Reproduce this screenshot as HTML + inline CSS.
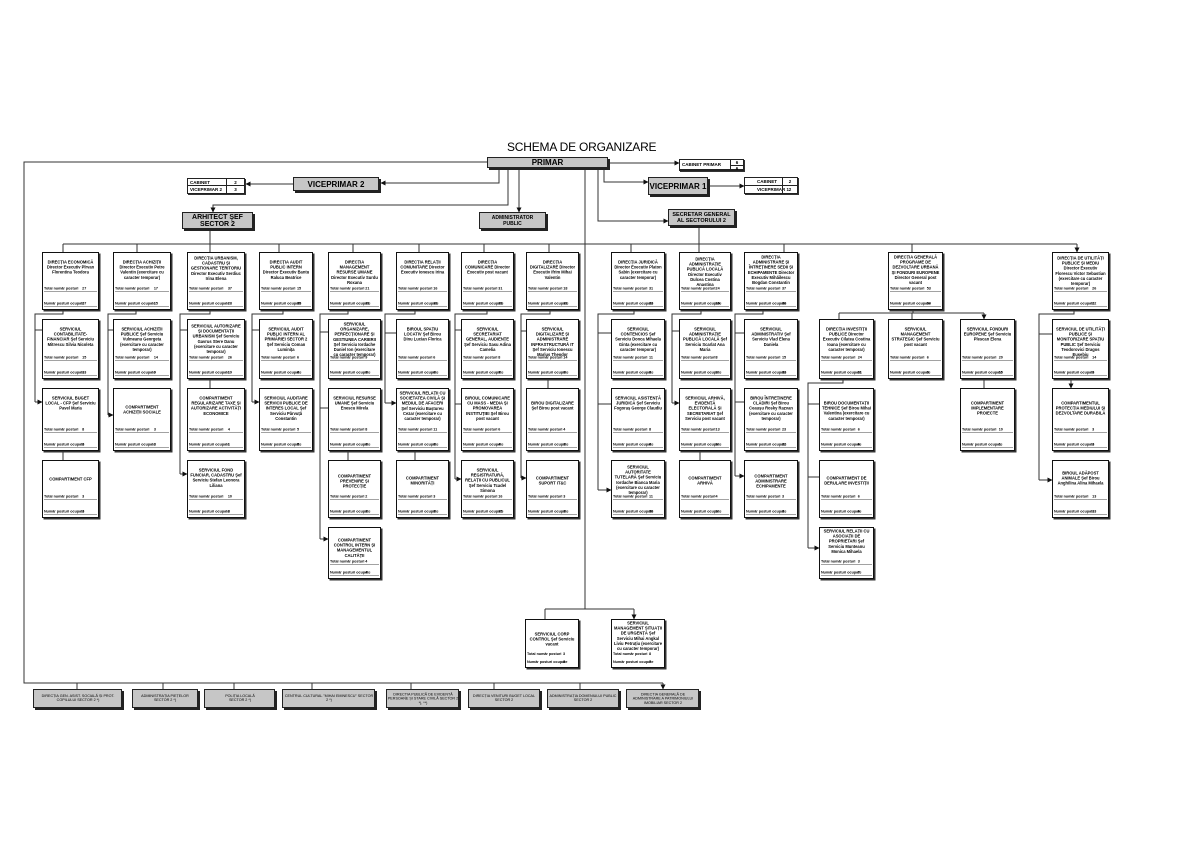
<!DOCTYPE html>
<html><head><meta charset="utf-8">
<style>
html,body{margin:0;padding:0;background:#fff}
body{width:1200px;height:848px;position:relative;overflow:hidden;font-family:"Liberation Sans",Arial,sans-serif;color:#000}
.b{position:absolute;background:#fff;border:1px solid #111;box-shadow:1.5px 1.5px 0 #333;box-sizing:border-box}
.b p{position:absolute;left:0;top:0;width:200%;box-sizing:border-box;transform:scale(.5);transform-origin:0 0;margin:0;padding:14px 4px 0;font-size:8.2px;line-height:10.2px;font-weight:bold;text-align:center}
.b .t,.b .o{position:absolute;left:1px;width:calc(200% - 4px);transform:scale(.5);transform-origin:0 100%;font-size:7.4px;line-height:8px;font-weight:bold;border-bottom:1.2px solid #444;padding-bottom:2px}
.b .t{bottom:17px}.b .o{bottom:2px}
.b s{text-decoration:none;position:absolute;left:72%}
.g{position:absolute;background:#c6c6c6;border:1px solid #222;box-shadow:2px 2px 0 #222;box-sizing:border-box;display:flex;align-items:center;justify-content:center;text-align:center;font-weight:bold}
.c{position:absolute;border:1px solid #222;box-sizing:border-box;background:#fff;box-shadow:1px 1px 0 #333;font-size:4.5px;font-weight:bold}
.c div{height:50%;border-bottom:0.6px solid #222;box-sizing:border-box;display:flex;align-items:center;padding-left:2px;position:relative}
.c div:last-child{border-bottom:none}
.c span{position:absolute;right:0;top:0;bottom:0;border-left:0.7px solid #222;display:flex;align-items:center;justify-content:center}
.bt{font-weight:normal}
.bt span{display:block;flex:none;width:200%;transform:scale(.5);font-size:7.4px;line-height:8.4px}
</style></head><body>
<svg width="1200" height="848" style="position:absolute;left:0;top:0" xmlns="http://www.w3.org/2000/svg">
<defs><marker id="a" markerWidth="5" markerHeight="5" refX="4.5" refY="2.5" orient="auto" markerUnits="userSpaceOnUse"><path d="M0,0L5,2.5L0,5z" fill="#111"/></marker></defs>
<g fill="none" stroke="#333" stroke-width="1">
<path d="M487,162L24,162L24,683L663,683"/>
<path d="M77,683V689M163,683V689M234,683V689M312,683V689M411,683V689M494,683V689M580,683V689M663,683V689" marker-end="url(#a)"/>
<path d="M499,167V183H381" marker-end="url(#a)"/>
<path d="M508,167V205H213V212" marker-end="url(#a)"/>
<path d="M519,167V212" marker-end="url(#a)"/>
<path d="M293,184H246" marker-end="url(#a)"/>
<path d="M608,163H679" marker-end="url(#a)"/>
<path d="M604,167V182H648" marker-end="url(#a)"/>
<path d="M708,186H744" marker-end="url(#a)"/>
<path d="M598,167V221H668" marker-end="url(#a)"/>
<path d="M585,167V609M545,609H634"/>
<path d="M545,609V619M634,609V619" marker-end="url(#a)"/>
<path d="M210,229V244M699,226V244M63,244H1077"/>
<path d="M63,244V252M137,244V252M210,244V252M279,244V252M353,244V252M419,244V252M484,244V252M549,244V252M631,244V252M699,244V252M784,244V252M912,244V252M1077,244V252" marker-end="url(#a)"/>
<path d="M63,310V314H35V402"/><path d="M35,330H42M35,402H42" marker-end="url(#a)"/>
<path d="M136,310V314H108V415"/><path d="M108,330H113M108,415H113" marker-end="url(#a)"/>
<path d="M210,310V314H180V474"/><path d="M180,330H187M180,474H187" marker-end="url(#a)"/>
<path d="M283,310V314H252V402"/><path d="M252,330H259M252,402H259" marker-end="url(#a)"/>
<path d="M348,310V314H320V539"/><path d="M320,332H328M320,408H328M320,539H328" marker-end="url(#a)"/>
<path d="M415,310V314H385V403"/><path d="M385,333H396M385,403H396" marker-end="url(#a)"/>
<path d="M487,310V314H455V479"/><path d="M455,330H461M455,404H461M455,479H461" marker-end="url(#a)"/>
<path d="M550,310V314H521V478"/><path d="M521,331H526M521,478H526" marker-end="url(#a)"/>
<path d="M634,310V314H598V490"/><path d="M598,333H611M598,404H611M598,490H611" marker-end="url(#a)"/>
<path d="M701,310V314H672V403"/><path d="M672,331H679M672,403H679" marker-end="url(#a)"/>
<path d="M763,310V314H735V476"/><path d="M735,333H744M735,402H744M735,476H744" marker-end="url(#a)"/>
<path d="M1074,310V314H1039V480"/><path d="M1039,334H1052M1039,480H1052" marker-end="url(#a)"/>
<path d="M843,379V383H808V548"/><path d="M808,404H819M808,477H819M808,548H819" marker-end="url(#a)"/>
<path d="M913,310V313M839,313H984"/><path d="M839,313V319M912,313V319M984,313V319" marker-end="url(#a)"/>
<path d="M63,451V460M210,379V388M348,451V460M415,451V460M548,379V388M700,451V460M984,379V388M1071,379V388" marker-end="url(#a)"/>
</g></svg>

<div style="position:absolute;left:507px;top:140px;font-size:12px;letter-spacing:-0.2px">SCHEMA DE ORGANIZARE</div>
<div class="g" style="left:487px;top:157px;width:121px;height:11px;font-size:8px">PRIMAR</div>
<div class="g" style="left:293px;top:177px;width:86px;height:14px;font-size:8px">VICEPRIMAR 2</div>
<div class="g" style="left:648px;top:177px;width:60px;height:18px;font-size:8px">VICEPRIMAR 1</div>
<div class="g" style="left:182px;top:212px;width:71px;height:17px;font-size:7px;line-height:7px">ARHITECT ŞEF<br>SECTOR 2</div>
<div class="g" style="left:479px;top:212px;width:67px;height:17px;font-size:5px;line-height:6px">ADMINISTRATOR<br>PUBLIC</div>
<div class="g" style="left:668px;top:209px;width:67px;height:17px;font-size:5.5px;line-height:6px">SECRETAR GENERAL<br>AL SECTORULUI 2</div>
<div class="c" style="left:187px;top:178px;width:58px;height:16px"><div>CABINET<span style="width:17px">2</span></div><div>VICEPRIMAR 2<span style="width:17px">3</span></div></div>
<div class="c" style="left:679px;top:159px;width:65px;height:12px"><div style="height:100%">CABINET PRIMAR</div><span style="width:12px;display:block"><div style="height:6px;justify-content:center;padding:0;border-bottom:0.6px solid #222">6</div><div style="height:5px;justify-content:center;padding:0">6</div></span></div>
<div class="c" style="left:744px;top:177px;width:54px;height:17px"><div style="padding-left:12px">CABINET<span style="width:14px">2</span></div><div style="padding-left:12px">VICEPRIMAR 1<span style="width:14px">2</span></div></div>

<!-- row 1 -->
<div class="b" style="left:42px;top:252px;width:57px;height:58px"><p>DIRECȚIA ECONOMICĂ Director Executiv Pîrvan Florentina Teodora</p><div class="t">Total număr posturi<s>27</s></div><div class="o">Număr posturi ocupate<s>27</s></div></div>
<div class="b" style="left:113px;top:252px;width:58px;height:58px"><p>DIRECȚIA ACHIZIȚII Director Executiv Petre Valentin (exercitare cu caracter temporar)</p><div class="t">Total număr posturi<s>17</s></div><div class="o">Număr posturi ocupate<s>15</s></div></div>
<div class="b" style="left:187px;top:252px;width:58px;height:58px"><p style="padding-top:6px">DIRECȚIA URBANISM, CADASTRU ȘI GESTIONARE TERITORIU Director Executiv Serdiuc Irina Elena</p><div class="t">Total număr posturi<s>37</s></div><div class="o">Număr posturi ocupate<s>28</s></div></div>
<div class="b" style="left:259px;top:252px;width:54px;height:58px"><p>DIRECȚIA AUDIT PUBLIC INTERN Director Executiv Bantu Raluca Beatrice</p><div class="t">Total număr posturi<s>15</s></div><div class="o">Număr posturi ocupate<s>15</s></div></div>
<div class="b" style="left:328px;top:252px;width:53px;height:58px"><p>DIRECȚIA MANAGEMENT RESURSE UMANE Director Executiv Surdu Roxana</p><div class="t">Total număr posturi<s>21</s></div><div class="o">Număr posturi ocupate<s>21</s></div></div>
<div class="b" style="left:396px;top:252px;width:53px;height:58px"><p>DIRECȚIA RELAȚII COMUNITARE Director Executiv Ionescu Irina</p><div class="t">Total număr posturi<s>16</s></div><div class="o">Număr posturi ocupate<s>16</s></div></div>
<div class="b" style="left:461px;top:252px;width:53px;height:58px"><p>DIRECȚIA COMUNICARE Director Executiv post vacant</p><div class="t">Total număr posturi<s>31</s></div><div class="o">Număr posturi ocupate<s>28</s></div></div>
<div class="b" style="left:526px;top:252px;width:53px;height:58px"><p>DIRECȚIA DIGITALIZARE Director Executiv Ifrim Mihai Valentin</p><div class="t">Total număr posturi<s>18</s></div><div class="o">Număr posturi ocupate<s>12</s></div></div>
<div class="b" style="left:611px;top:252px;width:54px;height:58px"><p>DIRECȚIA JURIDICĂ Director Executiv Platon Sabin (exercitare cu caracter temporar)</p><div class="t">Total număr posturi<s>31</s></div><div class="o">Număr posturi ocupate<s>23</s></div></div>
<div class="b" style="left:679px;top:252px;width:52px;height:58px"><p style="padding-top:8px">DIRECȚIA ADMINISTRAȚIE PUBLICĂ LOCALĂ Director Executiv Dulcea Costina Anastina</p><div class="t">Total număr posturi<s>24</s></div><div class="o">Număr posturi ocupate<s>19</s></div></div>
<div class="b" style="left:744px;top:252px;width:54px;height:58px"><p style="padding-top:4px">DIRECȚIA ADMINISTRARE ȘI ÎNTREȚINERE SEDII ȘI ECHIPAMENTE Director Executiv Mihăilescu Bogdan Constantin</p><div class="t">Total număr posturi<s>37</s></div><div class="o">Număr posturi ocupate<s>36</s></div></div>
<div class="b" style="left:888px;top:252px;width:55px;height:58px"><p style="padding-top:4px">DIRECȚIA GENERALĂ PROGRAME DE DEZVOLTARE URBANĂ ȘI FONDURI EUROPENE Director General post vacant</p><div class="t">Total număr posturi<s>53</s></div><div class="o">Număr posturi ocupate<s>34</s></div></div>
<div class="b" style="left:1052px;top:252px;width:57px;height:58px"><p style="padding-top:6px">DIRECȚIA DE UTILITĂȚI PUBLICE ȘI MEDIU Director Executiv Florescu Victor Sebastian (exercitare cu caracter temporar)</p><div class="t">Total număr posturi<s>26</s></div><div class="o">Număr posturi ocupate<s>22</s></div></div>

<!-- row 2 -->
<div class="b" style="left:42px;top:319px;width:57px;height:60px"><p>SERVICIUL CONTABILITATE-FINANCIAR Şef Serviciu Mitrescu Silvia Nicoleta</p><div class="t">Total număr posturi<s>15</s></div><div class="o">Număr posturi ocupate<s>13</s></div></div>
<div class="b" style="left:113px;top:319px;width:58px;height:60px"><p>SERVICIUL ACHIZIȚII PUBLICE Şef Serviciu Vulmeanu Georgeta (exercitare cu caracter temporar)</p><div class="t">Total număr posturi<s>14</s></div><div class="o">Număr posturi ocupate<s>9</s></div></div>
<div class="b" style="left:187px;top:319px;width:58px;height:60px"><p style="padding-top:8px">SERVICIUL AUTORIZARE ȘI DOCUMENTAȚII URBANISM Şef Serviciu Gavrus Stere Danu (exercitare cu caracter temporar)</p><div class="t">Total număr posturi<s>26</s></div><div class="o">Număr posturi ocupate<s>19</s></div></div>
<div class="b" style="left:259px;top:319px;width:54px;height:60px"><p>SERVICIUL AUDIT PUBLIC INTERN AL PRIMĂRIEI SECTOR 2 Şef Serviciu Coman Luminița</p><div class="t">Total număr posturi<s>6</s></div><div class="o">Număr posturi ocupate<s>6</s></div></div>
<div class="b" style="left:328px;top:319px;width:53px;height:60px"><p style="padding-top:4px">SERVICIUL ORGANIZARE, PERFECȚIONARE ȘI GESTIUNEA CARIERII Şef Serviciu Iordache Daniel Ion (exercitare cu caracter temporar)</p><div class="t">Total număr posturi<s>9</s></div><div class="o">Număr posturi ocupate<s>9</s></div></div>
<div class="b" style="left:396px;top:319px;width:53px;height:60px"><p>BIROUL SPAȚIU LOCATIV Şef Birou Dinu Lucian Florica</p><div class="t">Total număr posturi<s>6</s></div><div class="o">Număr posturi ocupate<s>6</s></div></div>
<div class="b" style="left:461px;top:319px;width:53px;height:60px"><p>SERVICIUL SECRETARIAT GENERAL, AUDIENȚE Şef Serviciu Sasu Adina Camelia</p><div class="t">Total număr posturi<s>8</s></div><div class="o">Număr posturi ocupate<s>7</s></div></div>
<div class="b" style="left:526px;top:319px;width:53px;height:60px"><p>SERVICIUL DIGITALIZARE ȘI ADMINISTRARE INFRASTRUCTURĂ IT Şef Serviciu Ionescu Marius Theodor</p><div class="t">Total număr posturi<s>14</s></div><div class="o">Număr posturi ocupate<s>9</s></div></div>
<div class="b" style="left:611px;top:319px;width:54px;height:60px"><p>SERVICIUL CONTENCIOS Şef Serviciu Donca Mihaela Ginta (exercitare cu caracter temporar)</p><div class="t">Total număr posturi<s>11</s></div><div class="o">Număr posturi ocupate<s>9</s></div></div>
<div class="b" style="left:679px;top:319px;width:52px;height:60px"><p>SERVICIUL ADMINISTRAȚIE PUBLICĂ LOCALĂ Şef Serviciu Scarlat Ana Maria</p><div class="t">Total număr posturi<s>8</s></div><div class="o">Număr posturi ocupate<s>7</s></div></div>
<div class="b" style="left:744px;top:319px;width:54px;height:60px"><p>SERVICIUL ADMINISTRATIV Şef Serviciu Vlad Elena Daniela</p><div class="t">Total număr posturi<s>15</s></div><div class="o">Număr posturi ocupate<s>13</s></div></div>
<div class="b" style="left:819px;top:319px;width:55px;height:60px"><p>DIRECȚIA INVESTIȚII PUBLICE Director Executiv Cilatea Costina Ioana (exercitare cu caracter temporar)</p><div class="t">Total număr posturi<s>24</s></div><div class="o">Număr posturi ocupate<s>21</s></div></div>
<div class="b" style="left:888px;top:319px;width:55px;height:60px"><p>SERVICIUL MANAGEMENT STRATEGIC Şef Serviciu post vacant</p><div class="t">Total număr posturi<s>6</s></div><div class="o">Număr posturi ocupate<s>3</s></div></div>
<div class="b" style="left:960px;top:319px;width:55px;height:60px"><p>SERVICIUL FONDURI EUROPENE Şef Serviciu Plescan Elena</p><div class="t">Total număr posturi<s>20</s></div><div class="o">Număr posturi ocupate<s>15</s></div></div>
<div class="b" style="left:1052px;top:319px;width:57px;height:60px"><p>SERVICIUL DE UTILITĂȚI PUBLICE ȘI MONITORIZARE SPAȚIU PUBLIC Şef Serviciu Teodorovici Dragos Eusebiu</p><div class="t">Total număr posturi<s>14</s></div><div class="o">Număr posturi ocupate<s>9</s></div></div>

<!-- row 3 -->
<div class="b" style="left:42px;top:388px;width:57px;height:63px"><p>SERVICIUL BUGET LOCAL - CFP Şef Serviciu Pavel Maria</p><div class="t">Total număr posturi<s>8</s></div><div class="o">Număr posturi ocupate<s>8</s></div></div>
<div class="b" style="left:113px;top:388px;width:58px;height:63px"><p style="padding-top:32px">COMPARTIMENT ACHIZIȚII SOCIALE</p><div class="t">Total număr posturi<s>3</s></div><div class="o">Număr posturi ocupate<s>3</s></div></div>
<div class="b" style="left:187px;top:388px;width:58px;height:63px"><p>COMPARTIMENT REGULARIZARE TAXE ȘI AUTORIZARE ACTIVITĂȚI ECONOMICE</p><div class="t">Total număr posturi<s>4</s></div><div class="o">Număr posturi ocupate<s>1</s></div></div>
<div class="b" style="left:259px;top:388px;width:54px;height:63px"><p>SERVICIUL AUDITARE SERVICII PUBLICE DE INTERES LOCAL Şef Serviciu Pârvuță Constantin</p><div class="t">Total număr posturi<s>5</s></div><div class="o">Număr posturi ocupate<s>5</s></div></div>
<div class="b" style="left:328px;top:388px;width:53px;height:63px"><p>SERVICIUL RESURSE UMANE Şef Serviciu Enescu Mirela</p><div class="t">Total număr posturi<s>8</s></div><div class="o">Număr posturi ocupate<s>8</s></div></div>
<div class="b" style="left:396px;top:388px;width:53px;height:63px"><p style="padding-top:4px">SERVICIUL RELAȚII CU SOCIETATEA CIVILĂ ȘI MEDIUL DE AFACERI Şef Serviciu Baștureu Cezar (exercitare cu caracter temporar)</p><div class="t">Total număr posturi<s>11</s></div><div class="o">Număr posturi ocupate<s>8</s></div></div>
<div class="b" style="left:461px;top:388px;width:53px;height:63px"><p>BIROUL COMUNICARE CU MASS - MEDIA ȘI PROMOVAREA INSTITUȚIEI Şef Birou post vacant</p><div class="t">Total număr posturi<s>6</s></div><div class="o">Număr posturi ocupate<s>4</s></div></div>
<div class="b" style="left:526px;top:388px;width:53px;height:63px"><p style="padding-top:24px">BIROU DIGITALIZARE Şef Birou post vacant</p><div class="t">Total număr posturi<s>4</s></div><div class="o">Număr posturi ocupate<s>3</s></div></div>
<div class="b" style="left:611px;top:388px;width:54px;height:63px"><p>SERVICIUL ASISTENȚĂ JURIDICĂ Şef Serviciu Fogoraș George Claudiu</p><div class="t">Total număr posturi<s>8</s></div><div class="o">Număr posturi ocupate<s>6</s></div></div>
<div class="b" style="left:679px;top:388px;width:52px;height:63px"><p>SERVICIUL ARHIVĂ, EVIDENȚĂ ELECTORALĂ ȘI SECRETARIAT Şef Serviciu post vacant</p><div class="t">Total număr posturi<s>13</s></div><div class="o">Număr posturi ocupate<s>8</s></div></div>
<div class="b" style="left:744px;top:388px;width:54px;height:63px"><p>BIROU ÎNTREȚINERE CLĂDIRI Şef Birou Ceaușu Rosky Razvan (exercitare cu caracter temporar)</p><div class="t">Total număr posturi<s>23</s></div><div class="o">Număr posturi ocupate<s>22</s></div></div>
<div class="b" style="left:819px;top:388px;width:55px;height:63px"><p style="padding-top:24px">BIROU DOCUMENTAȚII TEHNICE Şef Birou Mihai Valentina (exercitare cu caracter temporar)</p><div class="t">Total număr posturi<s>6</s></div><div class="o">Număr posturi ocupate<s>6</s></div></div>
<div class="b" style="left:960px;top:388px;width:55px;height:63px"><p style="padding-top:24px">COMPARTIMENT IMPLEMENTARE PROIECTE</p><div class="t">Total număr posturi<s>10</s></div><div class="o">Număr posturi ocupate<s>1</s></div></div>
<div class="b" style="left:1052px;top:388px;width:57px;height:63px"><p style="padding-top:24px">COMPARTIMENTUL PROTECȚIA MEDIULUI ȘI DEZVOLTARE DURABILĂ</p><div class="t">Total număr posturi<s>3</s></div><div class="o">Număr posturi ocupate<s>3</s></div></div>

<!-- row 4 -->
<div class="b" style="left:42px;top:460px;width:57px;height:58px"><p style="padding-top:32px">COMPARTIMENT CFP</p><div class="t">Total număr posturi<s>3</s></div><div class="o">Număr posturi ocupate<s>3</s></div></div>
<div class="b" style="left:187px;top:460px;width:58px;height:58px"><p>SERVICIUL FOND FUNCIAR, CADASTRU Şef Serviciu Stefan Leonora Liliana</p><div class="t">Total număr posturi<s>10</s></div><div class="o">Număr posturi ocupate<s>8</s></div></div>
<div class="b" style="left:328px;top:460px;width:53px;height:58px"><p style="padding-top:26px">COMPARTIMENT PREVENIRE ȘI PROTECȚIE</p><div class="t">Total număr posturi<s>2</s></div><div class="o">Număr posturi ocupate<s>2</s></div></div>
<div class="b" style="left:396px;top:460px;width:53px;height:58px"><p style="padding-top:30px">COMPARTIMENT MINORITĂȚI</p><div class="t">Total număr posturi<s>3</s></div><div class="o">Număr posturi ocupate<s>3</s></div></div>
<div class="b" style="left:461px;top:460px;width:53px;height:58px"><p>SERVICIUL REGISTRATURĂ, RELAȚII CU PUBLICUL Şef Serviciu Tcadel Simona</p><div class="t">Total număr posturi<s>16</s></div><div class="o">Număr posturi ocupate<s>15</s></div></div>
<div class="b" style="left:526px;top:460px;width:53px;height:58px"><p style="padding-top:30px">COMPARTIMENT SUPORT IT&amp;C</p><div class="t">Total număr posturi<s>3</s></div><div class="o">Număr posturi ocupate<s>3</s></div></div>
<div class="b" style="left:611px;top:460px;width:54px;height:58px"><p style="padding-top:8px">SERVICIUL AUTORITATE TUTELARĂ Şef Serviciu Iordache Bianca Maria (exercitare cu caracter temporar)</p><div class="t">Total număr posturi<s>11</s></div><div class="o">Număr posturi ocupate<s>10</s></div></div>
<div class="b" style="left:679px;top:460px;width:52px;height:58px"><p style="padding-top:30px">COMPARTIMENT ARHIVĂ</p><div class="t">Total număr posturi<s>4</s></div><div class="o">Număr posturi ocupate<s>3</s></div></div>
<div class="b" style="left:744px;top:460px;width:54px;height:58px"><p style="padding-top:26px">COMPARTIMENT ADMINISTRARE ECHIPAMENTE</p><div class="t">Total număr posturi<s>3</s></div><div class="o">Număr posturi ocupate<s>3</s></div></div>
<div class="b" style="left:819px;top:460px;width:55px;height:58px"><p style="padding-top:30px">COMPARTIMENT DE DERULARE INVESTIȚII</p><div class="t">Total număr posturi<s>6</s></div><div class="o">Număr posturi ocupate<s>6</s></div></div>
<div class="b" style="left:1052px;top:460px;width:57px;height:58px"><p style="padding-top:20px">BIROUL ADĂPOST ANIMALE Şef Birou Anghilina Alina Mihaela</p><div class="t">Total număr posturi<s>13</s></div><div class="o">Număr posturi ocupate<s>13</s></div></div>

<!-- row 5 -->
<div class="b" style="left:328px;top:527px;width:53px;height:52px"><p style="padding-top:20px">COMPARTIMENT CONTROL INTERN ȘI MANAGEMENTUL CALITĂȚII</p><div class="t" style="bottom:13px">Total număr posturi<s>4</s></div><div class="o">Număr posturi ocupate<s>4</s></div></div>
<div class="b" style="left:819px;top:527px;width:55px;height:52px"><p style="padding-top:2px">SERVICIUL RELAȚII CU ASOCIAȚII DE PROPRIETARI Şef Serviciu Munteanu Monica Mihaela</p><div class="t" style="bottom:13px">Total număr posturi<s>3</s></div><div class="o">Număr posturi ocupate<s>7</s></div></div>

<!-- corp control -->
<div class="b" style="left:525px;top:619px;width:54px;height:49px"><p style="padding-top:24px">SERVICIUL CORP CONTROL Şef Serviciu vacant</p><div class="t" style="bottom:10px;border:none">Total număr posturi<s>3</s></div><div class="o" style="border:none">Număr posturi ocupate<s>3</s></div></div>
<div class="b" style="left:611px;top:619px;width:54px;height:49px"><p style="padding-top:2px">SERVICIUL MANAGEMENT SITUAȚII DE URGENȚĂ Şef Serviciu Mihai Angkal Liviu Petruțiu (exercitare cu caracter temporar)</p><div class="t" style="bottom:10px;border:none">Total număr posturi<s>8</s></div><div class="o" style="border:none">Număr posturi ocupate<s>7</s></div></div>

<!-- bottom row -->
<div class="g bt" style="left:33px;top:689px;width:89px;height:19px"><span>DIRECȚIA GEN. ASIST. SOCIALĂ ȘI PROT. COPILULUI SECTOR 2 *)</span></div>
<div class="g bt" style="left:132px;top:689px;width:66px;height:19px"><span>ADMINISTRAȚIA PIEȚELOR<br>SECTOR 2 *)</span></div>
<div class="g bt" style="left:204px;top:689px;width:71px;height:19px"><span>POLIȚIA LOCALĂ<br>SECTOR 2 *)</span></div>
<div class="g bt" style="left:282px;top:689px;width:93px;height:19px"><span>CENTRUL CULTURAL "MIHAI EMINESCU" SECTOR 2 *)</span></div>
<div class="g bt" style="left:386px;top:689px;width:73px;height:19px"><span>DIRECȚIA PUBLICĂ DE EVIDENȚĂ PERSOANE ȘI STARE CIVILĂ SECTOR 2 *), **)</span></div>
<div class="g bt" style="left:468px;top:689px;width:72px;height:19px"><span>DIRECȚIA VENITURI BUGET LOCAL SECTOR 2</span></div>
<div class="g bt" style="left:547px;top:689px;width:72px;height:19px"><span>ADMINISTRAȚIA DOMENIULUI PUBLIC SECTOR 2</span></div>
<div class="g bt" style="left:626px;top:689px;width:73px;height:19px"><span>DIRECȚIA GENERALĂ DE ADMINISTRARE A PATRIMONIULUI IMOBILIAR SECTOR 2</span></div>
</body></html>
